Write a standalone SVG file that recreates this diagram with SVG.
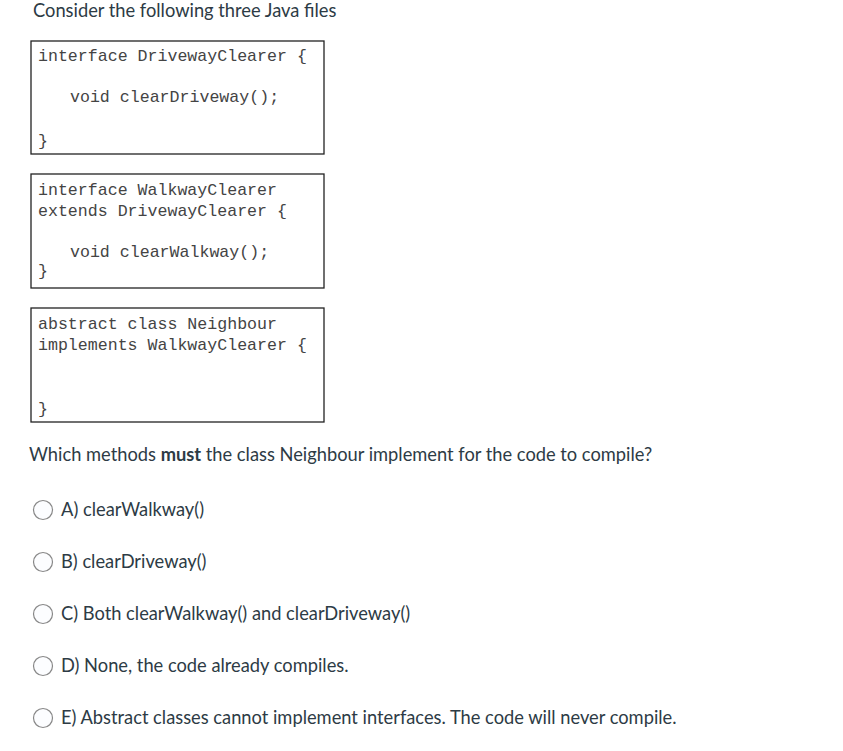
<svg xmlns="http://www.w3.org/2000/svg" width="843" height="751" viewBox="0 0 843 751">
<style>
.t{font-family:Lato,"Liberation Sans",sans-serif;font-size:18.3px;fill:#2d3b45}
.c{font-family:"Liberation Mono",monospace;font-size:16.6px;fill:#444}
.b{fill:none;stroke:#222;stroke-width:1.3}
.r{fill:#fcfdff;stroke:#888;stroke-width:1.2}
</style>
<rect width="843" height="751" fill="#fff"/>
<text class="t" x="33" y="17">Consider the following three Java files</text>
<rect class="b" x="31" y="41" width="293" height="113"/>
<text class="c" x="38" y="61">interface DrivewayClearer {</text>
<text class="c" x="70" y="102">void clearDriveway();</text>
<text class="c" x="38" y="146">}</text>
<rect class="b" x="31" y="174" width="293" height="114"/>
<text class="c" x="38" y="195">interface WalkwayClearer</text>
<text class="c" x="38" y="216">extends DrivewayClearer {</text>
<text class="c" x="70" y="257">void clearWalkway();</text>
<text class="c" x="38" y="276">}</text>
<rect class="b" x="31" y="308" width="293" height="114"/>
<text class="c" x="38" y="329">abstract class Neighbour</text>
<text class="c" x="38" y="350">implements WalkwayClearer {</text>
<text class="c" x="38" y="414">}</text>
<text class="t" x="29" y="461">Which methods <tspan font-weight="bold">must</tspan> the class Neighbour implement for the code to compile?</text>
<circle class="r" cx="43" cy="510" r="9.5"/><text class="t" x="61" y="516">A) clearWalkway()</text>
<circle class="r" cx="43" cy="562" r="9.5"/><text class="t" x="61" y="568">B) clearDriveway()</text>
<circle class="r" cx="43" cy="614" r="9.5"/><text class="t" x="61" y="620">C) Both clearWalkway() and clearDriveway()</text>
<circle class="r" cx="43" cy="666" r="9.5"/><text class="t" x="61" y="672">D) None, the code already compiles.</text>
<circle class="r" cx="43" cy="718" r="9.5"/><text class="t" x="61" y="724">E) Abstract classes cannot implement interfaces. The code will never compile.</text>
</svg>
